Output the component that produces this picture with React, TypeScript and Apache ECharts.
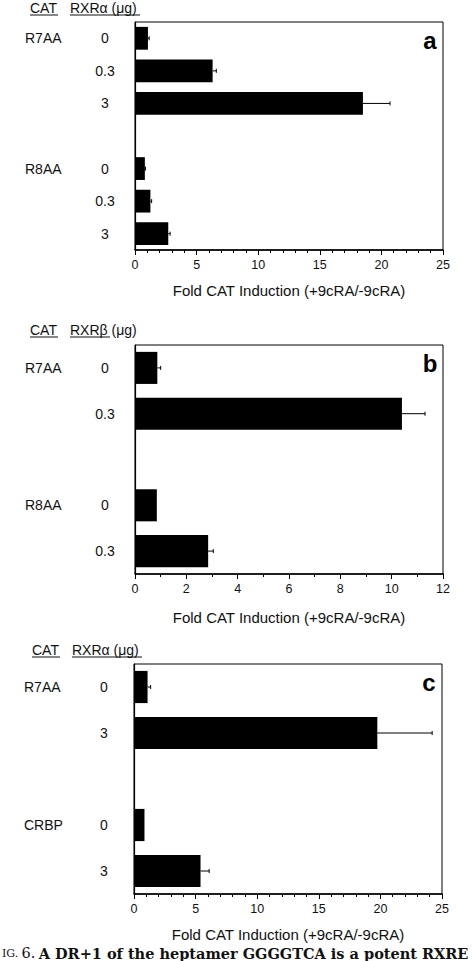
import React, { useEffect, useRef } from 'react'
import * as echarts from 'echarts'

// panel a: RXRalpha, R7AA / R8AA
const constructsA = ['R7AA', '', '', '', 'R8AA', '', '']
const dosesA = ['0', '0.3', '3', '', '0', '0.3', '3']
const valuesA = [1.05, 6.3, 18.5, null, 0.8, 1.25, 2.7]
const errorsA = [1.15, 6.6, 20.7, null, 0.85, 1.35, 2.85]

// panel b: RXRbeta
const constructsB = ['R7AA', '', '', 'R8AA', '']
const dosesB = ['0', '0.3', '', '0', '0.3']
const valuesB = [0.87, 10.4, null, 0.85, 2.85]
const errorsB = [1.0, 11.3, null, 0.85, 3.05]

// panel c: RXRalpha, R7AA / CRBP
const constructsC = ['R7AA', '', '', 'CRBP', '']
const dosesC = ['0', '3', '', '0', '3']
const valuesC = [1.1, 19.75, null, 0.85, 5.4]
const errorsC = [1.35, 24.2, null, 0.85, 6.1]

const xMaxes = [25, 12, 25]
const xIntervals = [5, 2, 5]
const xMinorSplits = [5, 2, 5]
const panelLetters = ['a', 'b', 'c']
const axisTitle = 'Fold CAT Induction (+9cRA/-9cRA)'

const FONT = '"Liberation Sans", Arial, sans-serif'
const SERIF = '"DejaVu Serif", serif'

const panels = [
    { constructs: constructsA, doses: dosesA, values: valuesA, errors: errorsA },
    { constructs: constructsB, doses: dosesB, values: valuesB, errors: errorsB },
    { constructs: constructsC, doses: dosesC, values: valuesC, errors: errorsC },
]

const grids = [
    { left: 135, top: 22, width: 308, height: 228 },
    { left: 135, top: 345, width: 308, height: 229 },
    { left: 134, top: 664, width: 308, height: 230 },
]

const headerTops = [8, 330, 650]
const nameGaps = [33, 36, 33]

const App: React.FC = () => {
    const chartRef = useRef<HTMLDivElement>(null)

    useEffect(() => {
        document.body.style.margin = '0'
        const chart = echarts.init(chartRef.current, null, { renderer: 'svg' })

        const xAxis = grids.map((_, i) => ({
            type: 'value',
            gridIndex: i,
            min: 0,
            max: xMaxes[i],
            interval: xIntervals[i],
            name: axisTitle,
            nameLocation: 'middle',
            nameGap: nameGaps[i],
            nameTextStyle: { fontFamily: FONT, fontSize: 15, color: '#111' },
            axisLine: { show: true, lineStyle: { color: '#000', width: 1.5 } },
            axisTick: { show: true, length: 5, lineStyle: { color: '#000' } },
            minorTick: { show: true, splitNumber: xMinorSplits[i], length: 3, lineStyle: { color: '#000' } },
            splitLine: { show: false },
            axisLabel: { fontFamily: FONT, fontSize: 12.5, color: '#111', margin: 8 },
        }))

        const yAxis = panels.map((p, i) => ({
            type: 'category',
            gridIndex: i,
            inverse: true,
            data: p.doses.map((_, k) => String(k)),
            axisLine: { show: true, lineStyle: { color: '#000', width: 1.2 } },
            axisTick: { show: false },
            axisLabel: {
                margin: 10,
                align: 'right',
                formatter: (_v: string, k: number) =>
                    p.doses[k] === '' ? '' : `{c|${p.constructs[k]}}{d|${p.doses[k]}}`,
                rich: {
                    c: { fontFamily: FONT, fontSize: 14, color: '#111', width: 60, align: 'left' },
                    d: { fontFamily: FONT, fontSize: 14, color: '#111', width: 40, align: 'center' },
                },
            },
        }))

        const series: any[] = []
        panels.forEach((p, i) => {
            series.push({
                type: 'bar',
                xAxisIndex: i,
                yAxisIndex: i,
                barWidth: '70%',
                itemStyle: { color: '#000' },
                data: p.values,
            })
            series.push({
                type: 'custom',
                xAxisIndex: i,
                yAxisIndex: i,
                data: p.values.map((v, k) => [v, k, p.errors[k]]),
                renderItem: (_params: any, api: any) => {
                    const v = api.value(0)
                    const k = api.value(1)
                    const e = api.value(2)
                    if (v == null || e == null || isNaN(v) || e <= v) return null
                    const a = api.coord([v, k])
                    const b = api.coord([e, k])
                    const style = { stroke: '#000', lineWidth: 1 }
                    return {
                        type: 'group',
                        children: [
                            { type: 'line', shape: { x1: a[0], y1: a[1], x2: b[0], y2: b[1] }, style },
                            { type: 'line', shape: { x1: b[0], y1: b[1] - 2, x2: b[0], y2: b[1] + 2 }, style },
                        ],
                    }
                },
                z: 3,
            })
        })

        const graphic: any[] = []
        grids.forEach((g, i) => {
            graphic.push({
                type: 'text',
                x: g.left + g.width - 13,
                y: g.top + 18,
                style: {
                    text: panelLetters[i],
                    font: `bold 24px ${FONT}`,
                    fill: '#000',
                    align: 'center',
                    verticalAlign: 'middle',
                },
            })
            const hy = headerTops[i]
            const leftX = i === 2 ? 32 : 30
            graphic.push({
                type: 'text',
                x: leftX,
                y: hy,
                style: { text: 'CAT', font: `14px ${FONT}`, fill: '#111', verticalAlign: 'middle' },
            })
            graphic.push({
                type: 'line',
                shape: { x1: leftX, y1: hy + 7, x2: leftX + 28, y2: hy + 7 },
                style: { stroke: '#111', lineWidth: 1 },
            })
            graphic.push({
                type: 'text',
                x: leftX + 40,
                y: hy,
                style: {
                    text: i === 1 ? 'RXRβ (μg)' : 'RXRα (μg)',
                    font: `14px ${FONT}`,
                    fill: '#111',
                    verticalAlign: 'middle',
                },
            })
            graphic.push({
                type: 'line',
                shape: { x1: leftX + 40, y1: hy + 7, x2: leftX + 40 + (i === 1 ? 40 : 70), y2: hy + 7 },
                style: { stroke: '#111', lineWidth: 1 },
            })
        })
        graphic.push({
            type: 'text',
            x: 2,
            y: 953,
            style: {
                text: '{s|IG.} {n|6.} {b|A DR+1 of the heptamer GGGGTCA is a potent RXRE}',
                verticalAlign: 'middle',
                rich: {
                    s: { fontFamily: SERIF, fontSize: 11, fill: '#111' },
                    n: { fontFamily: SERIF, fontSize: 14.5, fill: '#111' },
                    b: { fontFamily: SERIF, fontSize: 14.5, fontWeight: 'bold', fill: '#111' },
                },
            },
        })

        chart.setOption({
            animation: false,
            backgroundColor: '#fff',
            grid: grids.map((g) => ({ ...g, show: true, borderColor: '#000', borderWidth: 1 })),
            xAxis,
            yAxis,
            series,
            graphic,
        })

        return () => {
            chart.dispose()
        }
    }, [])

    return <div ref={chartRef} style={{ width: '474px', height: '961px' }} />
}

export default App
